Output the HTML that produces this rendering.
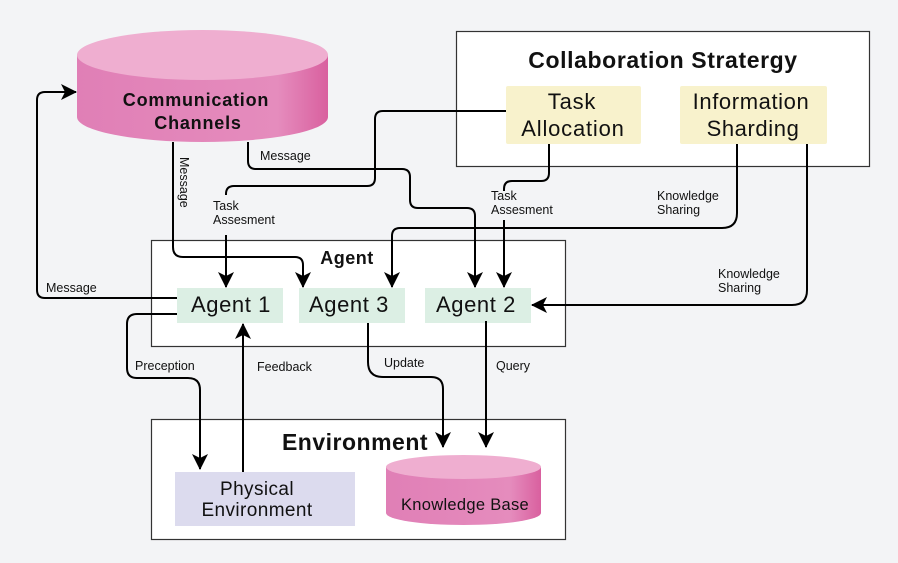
<!DOCTYPE html>
<html><head><meta charset="utf-8"><style>
html,body{margin:0;padding:0;background:#f3f4f6}
svg{display:block}
text{font-family:"Liberation Sans",sans-serif;fill:#111}
</style></head><body>
<svg width="898" height="563" viewBox="0 0 898 563" xmlns="http://www.w3.org/2000/svg">
<defs>
<marker id="a" viewBox="0 0 16 16" refX="15" refY="8" markerWidth="16" markerHeight="16" markerUnits="userSpaceOnUse" orient="auto">
<path d="M0,0 L16,8 L0,16 L4,8 Z" fill="#000"/></marker>
<linearGradient id="pk" x1="0" x2="1"><stop offset="0" stop-color="#e07fb6"/><stop offset="0.8" stop-color="#e58cbd"/><stop offset="1" stop-color="#d9609f"/></linearGradient>
</defs>
<rect width="898" height="563" fill="#f3f4f6"/>

<path d="M77,55 L77,117 A125.5,25 0 0 0 328,117 L328,55 Z" fill="url(#pk)"/>
<ellipse cx="202.5" cy="55" rx="125.5" ry="25" fill="#efaed0"/>
<text x="196" y="106" font-size="18" font-weight="bold" text-anchor="middle" letter-spacing="0.8">Communication</text>
<text x="198" y="129" font-size="18" font-weight="bold" text-anchor="middle" letter-spacing="0.8">Channels</text>

<rect x="456.5" y="31.5" width="413" height="135" fill="#fff" stroke="#333" stroke-width="1.2"/>
<text x="663" y="68" font-size="23" font-weight="bold" text-anchor="middle" letter-spacing="0.6">Collaboration Stratergy</text>
<rect x="506" y="86" width="135" height="58" rx="2" fill="#f8f2cc"/>
<text x="572" y="109" font-size="22" text-anchor="middle" letter-spacing="0.8">Task</text>
<text x="573" y="136" font-size="22" text-anchor="middle" letter-spacing="0.8">Allocation</text>
<rect x="680" y="86" width="147" height="58" rx="2" fill="#f8f2cc"/>
<text x="751" y="109" font-size="22" text-anchor="middle" letter-spacing="0.6">Information</text>
<text x="753" y="136" font-size="22" text-anchor="middle" letter-spacing="0.6">Sharding</text>

<rect x="151.5" y="240.5" width="414" height="106" fill="#fff" stroke="#333" stroke-width="1.2"/>
<text x="347" y="264" font-size="18" font-weight="bold" text-anchor="middle" letter-spacing="0.5">Agent</text>
<rect x="177" y="288" width="106" height="35" fill="#dcefe4"/>
<text x="231" y="312" font-size="22" text-anchor="middle" letter-spacing="0.6">Agent 1</text>
<rect x="299" y="288" width="106" height="35" fill="#dcefe4"/>
<text x="349" y="312" font-size="22" text-anchor="middle" letter-spacing="0.6">Agent 3</text>
<rect x="425" y="288" width="106" height="35" fill="#dcefe4"/>
<text x="476" y="312" font-size="22" text-anchor="middle" letter-spacing="0.6">Agent 2</text>

<rect x="151.5" y="419.5" width="414" height="120" fill="#fff" stroke="#333" stroke-width="1.2"/>
<text x="355" y="450" font-size="23" font-weight="bold" text-anchor="middle" letter-spacing="0.5">Environment</text>
<rect x="175" y="472" width="180" height="54" fill="#dcdbee"/>
<text x="257" y="495" font-size="19" text-anchor="middle" letter-spacing="0.4">Physical</text>
<text x="257" y="516" font-size="19" text-anchor="middle" letter-spacing="0.4">Environment</text>
<path d="M386,467 L386,513 A77.5,12 0 0 0 541,513 L541,467 Z" fill="url(#pk)"/>
<ellipse cx="463.5" cy="467" rx="77.5" ry="12" fill="#efaed0"/>
<text x="465" y="510" font-size="16.5" text-anchor="middle" letter-spacing="0.3">Knowledge Base</text>

<g fill="none" stroke="#000" stroke-width="2">
<path d="M177,298 H45 Q37,298 37,290 V100 Q37,92 45,92 H76" marker-end="url(#a)"/>
<path d="M173,142 V247 Q173,257 183,257 H295 Q303,257 303,265 V287" marker-end="url(#a)"/>
<path d="M248,142 V161 Q248,169 256,169 H402 Q410,169 410,177 V200 Q410,208 418,208 H467 Q475,208 475,216 V287" marker-end="url(#a)"/>
<path d="M506,111 H383 Q375,111 375,119 V178 Q375,186 367,186 H234 Q226,186 226,194 V195"/>
<path d="M226,235 V287" marker-end="url(#a)"/>
<path d="M549,144 V173 Q549,181 541,181 H512 Q504,181 504,189 V191"/>
<path d="M504,220 V287" marker-end="url(#a)"/>
<path d="M737,144 V213 Q737,228 722,228 H400 Q392,228 392,236 V287" marker-end="url(#a)"/>
<path d="M807,144 V290 Q807,305 792,305 H532" marker-end="url(#a)"/>
<path d="M177,314 H137 Q127,314 127,324 V368 Q127,378 137,378 H188 Q200,378 200,390 V469" marker-end="url(#a)"/>
<path d="M243,472 V324" marker-end="url(#a)"/>
<path d="M368,323 V362 Q368,377 383,377 H431 Q443,377 443,389 V447" marker-end="url(#a)"/>
<path d="M486,321 V447" marker-end="url(#a)"/>
</g>

<g font-size="12.5">
<text x="46" y="292">Message</text>
<text x="260" y="160">Message</text>
<text transform="translate(180,157) rotate(90)">Message</text>
<text x="213" y="210">Task</text>
<text x="213" y="224">Assesment</text>
<text x="491" y="200">Task</text>
<text x="491" y="214">Assesment</text>
<text x="657" y="200">Knowledge</text>
<text x="657" y="214">Sharing</text>
<text x="718" y="278">Knowledge</text>
<text x="718" y="292">Sharing</text>
<text x="135" y="370">Preception</text>
<text x="257" y="371">Feedback</text>
<text x="384" y="367">Update</text>
<text x="496" y="370">Query</text>
</g>
</svg>
</body></html>
